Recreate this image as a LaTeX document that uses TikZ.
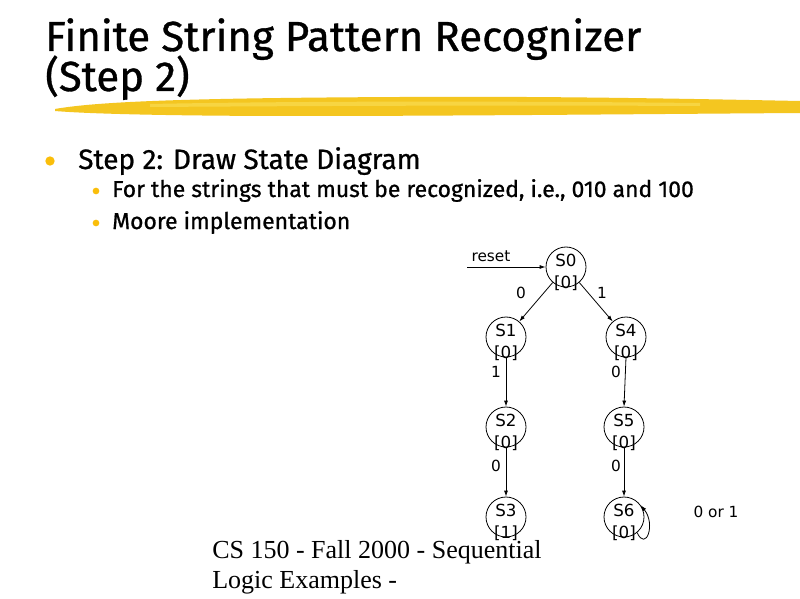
\documentclass[tikz,border=0pt]{standalone}
\usepackage{fontspec}
\setmainfont{Liberation Serif}
\newfontfamily\titlefont[FakeBold=0.8]{Fira Sans}
\newfontfamily\diafont{DejaVu Sans}
\usetikzlibrary{arrows.meta,shapes.geometric}
\definecolor{brush}{RGB}{244,198,32}
\definecolor{brushlight}{RGB}{250,224,90}
\definecolor{bullet}{RGB}{250,190,10}
\begin{document}
\begin{tikzpicture}[x=0.75pt,y=-0.75pt,
  state/.style={draw,circle,minimum size=30pt,inner sep=0pt,line width=0.6pt},
  stext/.style={font=\diafont\fontsize{12.5}{16.5}\selectfont,align=center,inner sep=0pt},
  lbl/.style={font=\diafont\fontsize{11.5}{13}\selectfont,inner sep=0pt},
  tr/.style={draw,line width=0.6pt,-{Latex[length=4.5pt,width=3pt]}},
  bul/.style={circle,fill=bullet,inner sep=0pt},
  ttl/.style={font=\titlefont\fontsize{31.5}{36}\selectfont,anchor=base west,inner sep=0pt},
  body/.style={font=\titlefont\fontsize{21}{24}\selectfont,anchor=base west,inner sep=0pt},
  sub/.style={font=\titlefont\fontsize{17.2}{20}\selectfont,anchor=base west,inner sep=0pt},
  foot/.style={font=\fontsize{19.5}{24}\selectfont,anchor=base west,inner sep=0pt}]
\useasboundingbox[fill=white] (0,0) rectangle (800,599);
% brush stroke
\fill[brush] (55,109) .. controls (100,101) and (200,98) .. (400,97)
  .. controls (550,96) and (700,99) .. (800,101) -- (800,113)
  .. controls (650,114) and (450,116) .. (300,116)
  .. controls (180,116) and (90,114) .. (55,111) -- cycle;
\fill[brushlight,opacity=0.6] (150,104) .. controls (300,101) and (500,101) .. (700,103)
  -- (700,106) .. controls (500,105) and (300,106) .. (150,107) -- cycle;
% title
\node[ttl] (t1) at (45,51) {Finite String Pattern Recognizer};
\node[ttl] (t2) at (45,91) {(Step 2)};
% bullets
\node[bul,minimum size=7pt] (b1) at (50,161) {};
\node[body] (l1) at (78,169) {Step 2: Draw State Diagram};
\node[bul,minimum size=5pt] (b2) at (96,191) {};
\node[sub] (l2) at (112,197) {For the strings that must be recognized, i.e., 010 and 100};
\node[bul,minimum size=5pt] (b3) at (96,223) {};
\node[sub] (l3) at (112,229) {Moore implementation};
% states
\node[state] (s0) at (566,267) {};
\node[state] (s1) at (506,337) {};
\node[state] (s4) at (626,337) {};
\node[state] (s2) at (506,427) {};
\node[state] (s5) at (624,427) {};
\node[state] (s3) at (506,517) {};
\node[state] (s6) at (624,517) {};
\node[stext] (x0) at (566,272) {S0\\{[0]}};
\node[stext] (x1) at (506,342) {S1\\{[0]}};
\node[stext] (x4) at (626,342) {S4\\{[0]}};
\node[stext] (x2) at (506,432) {S2\\{[0]}};
\node[stext] (x5) at (624,432) {S5\\{[0]}};
\node[stext] (x3) at (506,522) {S3\\{[1]}};
\node[stext] (x6) at (624,522) {S6\\{[0]}};
% reset
\coordinate (r0) at (467,267);
\draw[tr] (r0) -- (s0);
\node[lbl] (rl) at (491,256) {reset};
% transitions
\draw[tr] (s0) -- (s1);
\draw[tr] (s0) -- (s4);
\draw[tr] (s1) -- (s2);
\draw[tr] (s4.south) -- (s5.north);
\draw[tr] (s2) -- (s3);
\draw[tr] (s5) -- (s6);
\draw[tr] (s6.-50) .. controls (646,552) and (656,524) .. (s6.35);
% labels
\node[lbl] (a1) at (521,293) {0};
\node[lbl] (a2) at (602,293) {1};
\node[lbl] (a3) at (496,372) {1};
\node[lbl] (a4) at (616,372) {0};
\node[lbl] (a5) at (496,466) {0};
\node[lbl] (a6) at (616,466) {0};
\node[lbl] (a7) at (716,512) {0 or 1};
% footer
\node[foot] (f1) at (212,558) {CS 150 - Fall 2000 - Sequential};
\node[foot] (f2) at (212,588) {Logic Examples -};
\end{tikzpicture}
\end{document}
